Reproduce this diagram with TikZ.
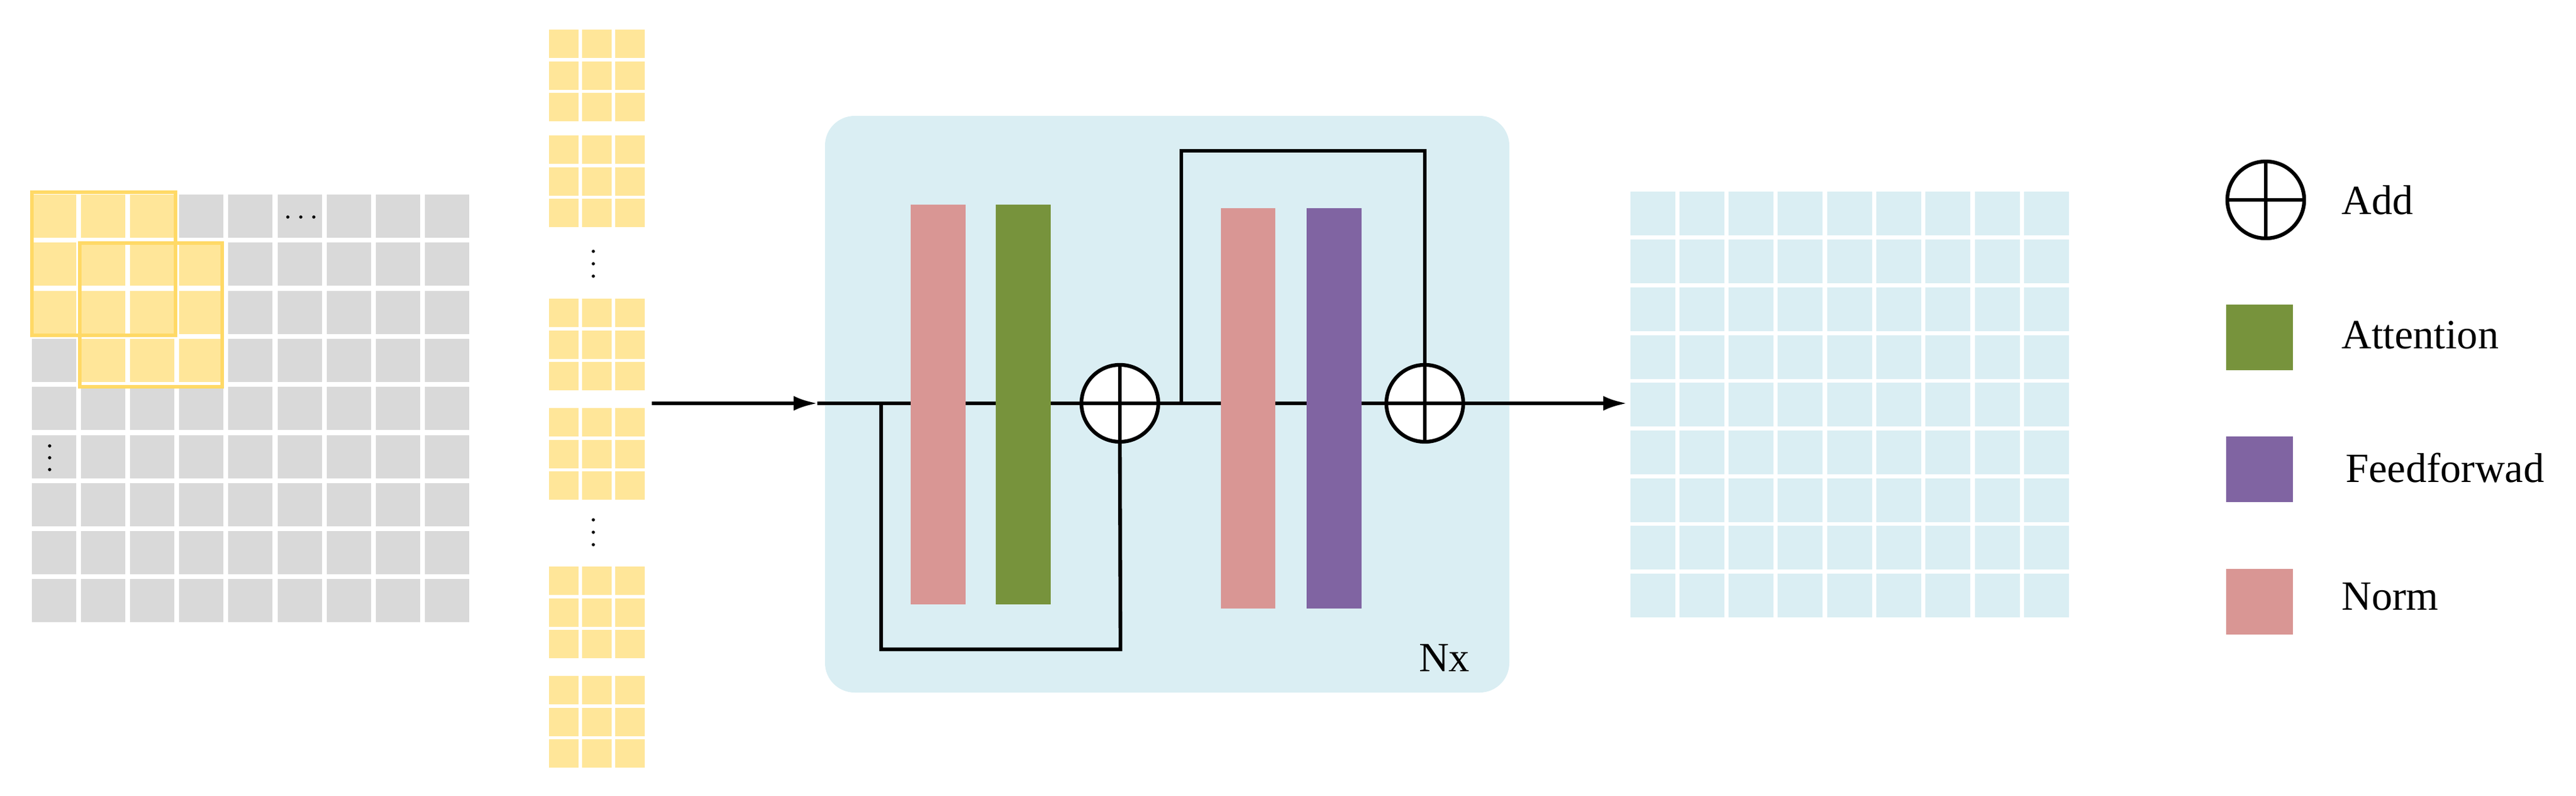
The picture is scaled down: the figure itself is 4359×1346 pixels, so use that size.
\documentclass[tikz,border=0pt]{standalone}
\usepackage{fontspec}
\setmainfont{Liberation Serif}
\usetikzlibrary{arrows.meta}
\definecolor{cgray}{HTML}{D9D9D9}
\definecolor{cyel}{HTML}{FFE699}
\definecolor{cyelb}{HTML}{FFD966}
\definecolor{cblue}{HTML}{DAEEF3}
\definecolor{cpink}{HTML}{D99694}
\definecolor{cgreen}{HTML}{77933C}
\definecolor{cpurp}{HTML}{8064A2}
\begin{document}
\begin{tikzpicture}[x=0.01cm,y=-0.01cm,
  wire/.style={line width=1.8pt,black},
  add/.style={circle,draw=black,fill=white,line width=1.8pt,minimum size=1.3cm,inner sep=0},
  lab/.style={anchor=west,font=\fontsize{20}{24}\selectfont},
  dot/.style={fill=black,circle,inner sep=0,minimum size=0.055cm}]
\useasboundingbox (0,0) rectangle (4359,1346);
% left grid
\foreach \i in {0,...,8}{\foreach \j in {0,...,8}{
  \fill[cgray] ({50+\i*83.1+4},{325+\j*81.3+4}) rectangle ++(75,73);}}
\foreach \i/\j in {0/0,1/0,2/0,0/1,1/1,2/1,3/1,0/2,1/2,2/2,3/2,1/3,2/3,3/3}{
  \fill[cyel] ({50+\i*83.1+4},{325+\j*81.3+4}) rectangle ++(75,73);}
\draw[cyelb,line width=1.6pt] (54,325) rectangle (297,567);
\draw[cyelb,line width=1.6pt] (135,411) rectangle (376,654);
\node[dot] (h1) at (487,367) {};\node[dot] (h2) at (509,367) {};\node[dot] (h3) at (531,367) {};
\node[dot] (v1) at (84,754) {};\node[dot] (v2) at (84,774) {};\node[dot] (v3) at (84,794) {};
% patch column
\foreach \b/\y in {0/47,1/226,2/502,3/687,4/955,5/1140}{
  \foreach \i in {0,...,2}{\foreach \j in {0,...,2}{
    \fill[cyel] ({926+\i*56+3},{\y+\j*53.7+3}) rectangle ++(50,48);}}}
\foreach \y in {425,446,467,879,900,921}{\node[dot] at (1004,\y) {};}
% transformer box
\fill[cblue,rounded corners=0.5cm] (1396,196) rectangle (2554,1171);
\coordinate (in) at (1103,682);
\coordinate (ent) at (1383,682);
\coordinate (b1) at (1491,682);
\coordinate (b2) at (1999,682);
\coordinate (outt) at (2753,682);
\node[add] (a1) at (1895,682) {};
\node[add] (a2) at (2411,682) {};
\draw[wire,-{Latex[length=0.4cm,width=0.25cm]}] (in) -- (ent);
\draw[wire] (ent) -- (a1.west);
\draw[wire] (b1) |- (1896,1098) -- (a1.south);
\draw[wire] (a1.east) -- (a2.west);
\draw[wire] (b2) |- (2411,255) -- (a2.north);
\draw[wire,-{Latex[length=0.4cm,width=0.25cm]}] (a2.east) -- (outt);
\foreach \n in {a1,a2}{\draw[wire] (\n.north)--(\n.south) (\n.west)--(\n.east);}
\fill[cpink] (1541,346) rectangle (1634,1022); \node (n1) at (1587,684) {};
\fill[cgreen] (1685,346) rectangle (1778,1022); \node (at) at (1731,684) {};
\fill[cpink] (2066,352) rectangle (2158,1029); \node (n2) at (2112,690) {};
\fill[cpurp] (2211,352) rectangle (2304,1029); \node (ff) at (2257,690) {};
\node[font=\fontsize{20}{24}\selectfont] (nx) at (2444,1112) {Nx};
% output grid
\foreach \i in {0,...,8}{\foreach \j in {0,...,8}{
  \fill[cblue] ({2755+\i*83.3+3.5},{321+\j*80.7+3.5}) rectangle ++(76,74);}}
% legend
\node[add] (la) at (3834,338) {};
\draw[wire] (la.north)--(la.south) (la.west)--(la.east);
\node[lab] (ta) at (3950,338) {Add};
\fill[cgreen] (3767,515) rectangle (3880,626);
\node[lab] (tb) at (3950,567) {Attention};
\fill[cpurp] (3767,738) rectangle (3880,849);
\node[lab] (tc) at (3957,791) {Feedforwad};
\fill[cpink] (3767,962) rectangle (3880,1073);
\node[lab] (td) at (3950,1009) {Norm};
\end{tikzpicture}
\end{document}
